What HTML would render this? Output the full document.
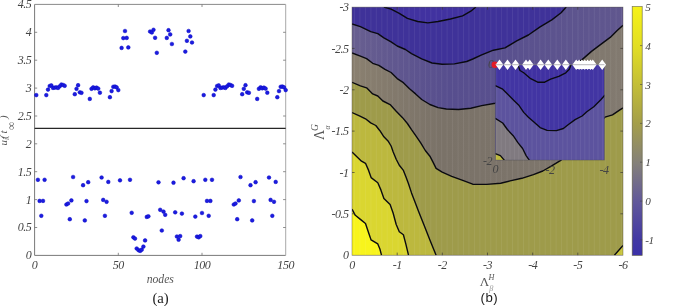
<!DOCTYPE html>
<html><head><meta charset="utf-8"><title>figure</title>
<style>
html,body{margin:0;padding:0;background:#fff;}
svg{display:block;}
text{font-family:"Liberation Serif",serif;}
.tl{font-style:italic;font-size:12px;letter-spacing:-0.45px;fill:#444;}
.it{font-style:italic;}
.cb{font-size:11.2px;}
</style></head><body>
<svg width="685" height="306" viewBox="0 0 685 306">
<rect width="685" height="306" fill="#fff"/>
<path d="M34.6 4.4V255.4H285.7" fill="none" stroke="#727272" stroke-width="0.95"/>
<path d="M34.6 4.4H285.7" fill="none" stroke="#848484" stroke-width="0.95"/>
<path d="M285.7 4.4V255.4" fill="none" stroke="#a4a4a4" stroke-width="0.95"/>
<text class="tl" x="31.400000000000002" y="259.35" text-anchor="end">0</text>
<text class="tl" x="31.400000000000002" y="231.46" text-anchor="end">0.5</text>
<text class="tl" x="31.400000000000002" y="203.57" text-anchor="end">1</text>
<text class="tl" x="31.400000000000002" y="175.68" text-anchor="end">1.5</text>
<text class="tl" x="31.400000000000002" y="147.79" text-anchor="end">2</text>
<text class="tl" x="31.400000000000002" y="119.91" text-anchor="end">2.5</text>
<text class="tl" x="31.400000000000002" y="92.02" text-anchor="end">3</text>
<text class="tl" x="31.400000000000002" y="64.13" text-anchor="end">3.5</text>
<text class="tl" x="31.400000000000002" y="36.24" text-anchor="end">4</text>
<text class="tl" x="31.400000000000002" y="8.35" text-anchor="end">4.5</text>
<text class="tl" x="34.6" y="268.9" text-anchor="middle">0</text>
<text class="tl" x="118.3" y="268.9" text-anchor="middle">50</text>
<text class="tl" x="202.0" y="268.9" text-anchor="middle">100</text>
<text class="tl" x="285.7" y="268.9" text-anchor="middle">150</text>
<path d="M34.6 227.5h2.6M285.7 227.5h-2.6M34.6 199.6h2.6M285.7 199.6h-2.6M34.6 171.7h2.6M285.7 171.7h-2.6M34.6 143.8h2.6M285.7 143.8h-2.6M34.6 116.0h2.6M285.7 116.0h-2.6M34.6 88.1h2.6M285.7 88.1h-2.6M34.6 60.2h2.6M285.7 60.2h-2.6M34.6 32.3h2.6M285.7 32.3h-2.6M118.3 255.4v-2.6M118.3 4.4v2.6M202.0 255.4v-2.6M202.0 4.4v2.6" stroke="#727272" stroke-width="0.8" fill="none"/>
<line x1="34.6" y1="128.35" x2="285.7" y2="128.35" stroke="#262626" stroke-width="1.1"/>
<g fill="#1c1ce0" stroke="#0606c4" stroke-width="0.5"><circle cx="36.3" cy="95.1" r="1.85"/><circle cx="37.9" cy="179.8" r="1.85"/><circle cx="39.6" cy="200.9" r="1.85"/><circle cx="41.3" cy="215.8" r="1.85"/><circle cx="43.0" cy="200.9" r="1.85"/><circle cx="44.6" cy="179.8" r="1.85"/><circle cx="46.3" cy="95.1" r="1.85"/><circle cx="48.0" cy="89.6" r="1.85"/><circle cx="49.7" cy="86.0" r="1.85"/><circle cx="51.3" cy="85.4" r="1.85"/><circle cx="53.0" cy="87.9" r="1.85"/><circle cx="54.7" cy="87.6" r="1.85"/><circle cx="56.4" cy="87.3" r="1.85"/><circle cx="58.0" cy="87.9" r="1.85"/><circle cx="59.7" cy="86.3" r="1.85"/><circle cx="61.4" cy="84.5" r="1.85"/><circle cx="63.1" cy="85.0" r="1.85"/><circle cx="64.7" cy="85.8" r="1.85"/><circle cx="66.4" cy="204.5" r="1.85"/><circle cx="68.1" cy="203.5" r="1.85"/><circle cx="69.8" cy="219.2" r="1.85"/><circle cx="71.4" cy="200.4" r="1.85"/><circle cx="73.1" cy="177.0" r="1.85"/><circle cx="74.8" cy="94.2" r="1.85"/><circle cx="76.5" cy="88.8" r="1.85"/><circle cx="78.1" cy="85.2" r="1.85"/><circle cx="79.8" cy="92.3" r="1.85"/><circle cx="81.5" cy="92.8" r="1.85"/><circle cx="83.1" cy="185.2" r="1.85"/><circle cx="84.8" cy="220.4" r="1.85"/><circle cx="86.5" cy="201.1" r="1.85"/><circle cx="88.2" cy="182.2" r="1.85"/><circle cx="89.8" cy="98.9" r="1.85"/><circle cx="91.5" cy="88.8" r="1.85"/><circle cx="93.2" cy="87.3" r="1.85"/><circle cx="94.9" cy="88.3" r="1.85"/><circle cx="96.5" cy="87.6" r="1.85"/><circle cx="98.2" cy="88.6" r="1.85"/><circle cx="99.9" cy="92.7" r="1.85"/><circle cx="101.6" cy="177.5" r="1.85"/><circle cx="103.2" cy="199.9" r="1.85"/><circle cx="104.9" cy="215.8" r="1.85"/><circle cx="106.6" cy="201.8" r="1.85"/><circle cx="108.3" cy="181.9" r="1.85"/><circle cx="109.9" cy="97.2" r="1.85"/><circle cx="111.6" cy="91.1" r="1.85"/><circle cx="113.3" cy="86.8" r="1.85"/><circle cx="115.0" cy="86.5" r="1.85"/><circle cx="116.6" cy="87.3" r="1.85"/><circle cx="118.3" cy="90.1" r="1.85"/><circle cx="120.0" cy="180.3" r="1.85"/><circle cx="121.6" cy="47.9" r="1.85"/><circle cx="123.3" cy="38.1" r="1.85"/><circle cx="125.0" cy="31.0" r="1.85"/><circle cx="126.7" cy="37.9" r="1.85"/><circle cx="128.3" cy="47.4" r="1.85"/><circle cx="130.0" cy="179.8" r="1.85"/><circle cx="131.7" cy="212.8" r="1.85"/><circle cx="133.4" cy="237.3" r="1.85"/><circle cx="135.0" cy="238.6" r="1.85"/><circle cx="136.7" cy="248.5" r="1.85"/><circle cx="138.4" cy="250.1" r="1.85"/><circle cx="140.1" cy="250.9" r="1.85"/><circle cx="141.7" cy="249.7" r="1.85"/><circle cx="143.4" cy="246.6" r="1.85"/><circle cx="145.1" cy="240.4" r="1.85"/><circle cx="146.8" cy="216.9" r="1.85"/><circle cx="148.4" cy="216.3" r="1.85"/><circle cx="150.1" cy="31.5" r="1.85"/><circle cx="151.8" cy="32.5" r="1.85"/><circle cx="153.5" cy="29.8" r="1.85"/><circle cx="155.1" cy="37.8" r="1.85"/><circle cx="156.8" cy="52.8" r="1.85"/><circle cx="158.5" cy="182.3" r="1.85"/><circle cx="160.2" cy="209.8" r="1.85"/><circle cx="161.8" cy="230.5" r="1.85"/><circle cx="163.5" cy="211.6" r="1.85"/><circle cx="165.2" cy="214.8" r="1.85"/><circle cx="166.8" cy="37.9" r="1.85"/><circle cx="168.5" cy="30.2" r="1.85"/><circle cx="170.2" cy="34.4" r="1.85"/><circle cx="171.9" cy="44.0" r="1.85"/><circle cx="173.5" cy="182.7" r="1.85"/><circle cx="175.2" cy="212.3" r="1.85"/><circle cx="176.9" cy="236.5" r="1.85"/><circle cx="178.6" cy="239.7" r="1.85"/><circle cx="180.2" cy="236.1" r="1.85"/><circle cx="181.9" cy="213.6" r="1.85"/><circle cx="183.6" cy="178.2" r="1.85"/><circle cx="185.3" cy="51.6" r="1.85"/><circle cx="186.9" cy="40.8" r="1.85"/><circle cx="188.6" cy="31.0" r="1.85"/><circle cx="190.3" cy="36.4" r="1.85"/><circle cx="192.0" cy="42.5" r="1.85"/><circle cx="193.6" cy="181.2" r="1.85"/><circle cx="195.3" cy="216.6" r="1.85"/><circle cx="197.0" cy="236.6" r="1.85"/><circle cx="198.7" cy="237.3" r="1.85"/><circle cx="200.3" cy="236.1" r="1.85"/><circle cx="202.0" cy="213.0" r="1.85"/><circle cx="203.7" cy="95.1" r="1.85"/><circle cx="205.3" cy="179.8" r="1.85"/><circle cx="207.0" cy="200.9" r="1.85"/><circle cx="208.7" cy="215.8" r="1.85"/><circle cx="210.4" cy="200.9" r="1.85"/><circle cx="212.0" cy="179.8" r="1.85"/><circle cx="213.7" cy="95.1" r="1.85"/><circle cx="215.4" cy="89.6" r="1.85"/><circle cx="217.1" cy="86.0" r="1.85"/><circle cx="218.7" cy="85.4" r="1.85"/><circle cx="220.4" cy="87.9" r="1.85"/><circle cx="222.1" cy="87.6" r="1.85"/><circle cx="223.8" cy="87.3" r="1.85"/><circle cx="225.4" cy="87.9" r="1.85"/><circle cx="227.1" cy="86.3" r="1.85"/><circle cx="228.8" cy="84.5" r="1.85"/><circle cx="230.5" cy="85.0" r="1.85"/><circle cx="232.1" cy="85.8" r="1.85"/><circle cx="233.8" cy="204.5" r="1.85"/><circle cx="235.5" cy="203.5" r="1.85"/><circle cx="237.2" cy="219.2" r="1.85"/><circle cx="238.8" cy="200.4" r="1.85"/><circle cx="240.5" cy="177.0" r="1.85"/><circle cx="242.2" cy="94.2" r="1.85"/><circle cx="243.8" cy="88.8" r="1.85"/><circle cx="245.5" cy="85.2" r="1.85"/><circle cx="247.2" cy="92.3" r="1.85"/><circle cx="248.9" cy="92.8" r="1.85"/><circle cx="250.5" cy="185.2" r="1.85"/><circle cx="252.2" cy="220.4" r="1.85"/><circle cx="253.9" cy="201.1" r="1.85"/><circle cx="255.6" cy="182.2" r="1.85"/><circle cx="257.2" cy="98.9" r="1.85"/><circle cx="258.9" cy="88.8" r="1.85"/><circle cx="260.6" cy="87.3" r="1.85"/><circle cx="262.3" cy="88.3" r="1.85"/><circle cx="263.9" cy="87.6" r="1.85"/><circle cx="265.6" cy="88.6" r="1.85"/><circle cx="267.3" cy="92.7" r="1.85"/><circle cx="269.0" cy="177.5" r="1.85"/><circle cx="270.6" cy="199.9" r="1.85"/><circle cx="272.3" cy="215.8" r="1.85"/><circle cx="274.0" cy="201.8" r="1.85"/><circle cx="275.7" cy="181.9" r="1.85"/><circle cx="277.3" cy="97.2" r="1.85"/><circle cx="279.0" cy="91.1" r="1.85"/><circle cx="280.7" cy="86.8" r="1.85"/><circle cx="282.4" cy="86.5" r="1.85"/><circle cx="284.0" cy="87.3" r="1.85"/><circle cx="285.7" cy="90.1" r="1.85"/></g>
<text class="it" x="160.3" y="282.6" text-anchor="middle" font-size="11.7" fill="#555">nodes</text>
<text x="160.6" y="302.7" text-anchor="middle" font-size="14.8" fill="#222" font-family="'Liberation Serif',serif">(a)</text>
<g transform="translate(6.9 145.4) rotate(-90)" fill="#555" class="it" font-size="11"><text x="0" y="0">u</text><text x="5.5" y="2.4" font-size="7.5">i</text><text x="6.7" y="0">(</text><text x="12.0" y="0">t</text><text x="15.3" y="7.6" font-size="11.6" font-style="normal">∞</text><text x="26.3" y="0">)</text></g>
<clipPath id="cb"><rect x="352.0" y="7.1" width="271.0" height="248.1"/></clipPath>
<linearGradient id="gbc" gradientUnits="userSpaceOnUse" x1="352" y1="0" x2="623" y2="0"><stop offset="0" stop-color="#685f90"/><stop offset="0.36" stop-color="#574e8e"/><stop offset="0.62" stop-color="#5a518e"/><stop offset="1" stop-color="#60578e"/></linearGradient>
<linearGradient id="gcd" gradientUnits="userSpaceOnUse" x1="352" y1="0" x2="623" y2="0"><stop offset="0" stop-color="#8a8070"/><stop offset="0.33" stop-color="#7a7268"/><stop offset="0.6" stop-color="#7c746a"/><stop offset="1" stop-color="#827a70"/></linearGradient>
<g clip-path="url(#cb)">
<rect x="352.0" y="7.1" width="271.0" height="248.1" fill="#3f3299"/>
<path d="M383.9 7.0 L391.1 9.2 L399.3 13.3 L407.4 18.4 L417.7 21.5 L427.9 22.9 L438.1 21.5 L450.4 19.0 L462.6 15.9 L470.8 11.2 L475.9 7.0Z" fill="#4132a0"/>
<path d="M352.0 24.0 L360.4 26.6 L370.7 31.7 L377.8 33.7 L383.9 37.8 L391.1 41.9 L397.2 46.0 L405.4 49.5 L411.5 53.6 L421.7 58.8 L432.0 63.0 L442.2 64.3 L454.4 63.9 L466.7 61.5 L472.8 59.0 L481.7 54.9 L493.4 50.2 L505.0 47.9 L516.7 40.9 L528.4 35.0 L540.1 26.9 L551.8 19.9 L561.1 12.8 L566.2 7.0 L623.0 7.1 L623.0 255.2 L352.0 255.2Z" fill="url(#gbc)"/>
<path d="M352.0 53.0 L360.4 56.1 L366.6 58.6 L372.7 63.3 L378.8 65.3 L385.0 69.4 L391.1 72.5 L397.2 78.6 L403.4 82.7 L409.5 88.8 L415.6 93.9 L421.7 99.5 L429.9 104.5 L438.1 107.6 L446.3 109.0 L458.5 109.5 L470.8 108.2 L481.7 105.6 L495.2 103.2 L520.0 92.0 L550.0 78.0 L582.1 59.6 L591.5 51.4 L600.8 44.4 L610.2 37.4 L617.2 30.4 L623.0 25.2 L623.0 255.2 L352.0 255.2Z" fill="url(#gcd)"/>
<path d="M352.0 82.3 L360.4 85.8 L366.6 87.8 L372.7 93.9 L377.8 96.0 L382.9 101.0 L390.1 104.6 L396.2 111.2 L402.3 117.4 L407.4 123.5 L411.5 129.6 L416.6 136.8 L420.7 142.9 L425.3 150.5 L429.9 156.2 L433.0 162.1 L436.1 168.4 L442.2 172.2 L451.7 176.3 L463.4 180.6 L472.7 184.2 L486.7 184.4 L500.7 183.2 L510.1 180.9 L521.8 178.3 L533.4 174.6 L542.8 171.0 L552.1 165.7 L560.3 160.6 L585.0 140.0 L605.0 117.1 L612.5 114.8 L619.5 110.1 L623.0 107.9 L623.0 255.2 L352.0 255.2Z" fill="#9e9b4a"/>
<path d="M352.0 112.6 L359.4 115.9 L365.5 118.8 L370.7 122.9 L375.8 125.5 L379.9 130.7 L383.9 136.8 L388.0 140.9 L391.1 146.0 L393.2 152.0 L396.2 159.2 L399.3 165.3 L403.4 170.4 L405.8 176.6 L408.5 183.7 L411.5 192.9 L414.6 201.1 L418.7 211.8 L423.8 224.5 L429.9 239.9 L436.1 255.2 L352.0 255.2Z" fill="#bcb83e"/>
<path d="M352.0 152.0 L357.4 157.2 L361.5 161.2 L365.5 163.3 L368.6 170.4 L371.1 177.6 L377.8 182.7 L380.9 189.9 L383.9 198.5 L390.1 204.6 L393.1 213.0 L396.2 224.5 L399.3 231.7 L403.4 234.7 L405.8 243.9 L408.5 255.2 L352.0 255.2Z" fill="#dad630"/>
<path d="M352.0 209.2 L355.3 215.3 L360.4 219.4 L365.5 223.5 L368.6 232.7 L371.1 239.9 L377.8 243.9 L379.9 249.0 L381.5 255.2 L352.0 255.2Z" fill="#f8f41c"/>
<path d="M614.4 255.2 L623.0 245.4 L623.0 255.2Z" fill="#c8c43c"/>
<path d="M354.5 7.1V255.2M359.9 7.1V255.2M365.4 7.1V255.2M370.9 7.1V255.2M376.3 7.1V255.2M381.8 7.1V255.2M387.2 7.1V255.2M392.6 7.1V255.2M398.1 7.1V255.2M403.6 7.1V255.2M409.0 7.1V255.2M414.4 7.1V255.2M419.9 7.1V255.2M425.4 7.1V255.2M430.8 7.1V255.2M436.2 7.1V255.2M441.7 7.1V255.2M447.1 7.1V255.2M452.6 7.1V255.2M458.1 7.1V255.2M463.5 7.1V255.2M468.9 7.1V255.2M474.4 7.1V255.2M479.9 7.1V255.2M485.3 7.1V255.2M490.8 7.1V255.2M496.2 7.1V255.2M501.6 7.1V255.2M507.1 7.1V255.2M512.5 7.1V255.2M518.0 7.1V255.2M523.5 7.1V255.2M528.9 7.1V255.2M534.4 7.1V255.2M539.8 7.1V255.2M545.2 7.1V255.2M550.7 7.1V255.2M556.1 7.1V255.2M561.6 7.1V255.2M567.0 7.1V255.2M572.5 7.1V255.2M578.0 7.1V255.2M583.4 7.1V255.2M588.9 7.1V255.2M594.3 7.1V255.2M599.8 7.1V255.2M605.2 7.1V255.2M610.7 7.1V255.2M616.1 7.1V255.2M621.5 7.1V255.2" stroke="#fff" stroke-opacity="0.13" stroke-width="0.55" fill="none"/>
<path d="M383.9 7.0 L391.1 9.2 L399.3 13.3 L407.4 18.4 L417.7 21.5 L427.9 22.9 L438.1 21.5 L450.4 19.0 L462.6 15.9 L470.8 11.2 L475.9 7.0M352.0 24.0 L360.4 26.6 L370.7 31.7 L377.8 33.7 L383.9 37.8 L391.1 41.9 L397.2 46.0 L405.4 49.5 L411.5 53.6 L421.7 58.8 L432.0 63.0 L442.2 64.3 L454.4 63.9 L466.7 61.5 L472.8 59.0 L481.7 54.9 L493.4 50.2 L505.0 47.9 L516.7 40.9 L528.4 35.0 L540.1 26.9 L551.8 19.9 L561.1 12.8 L566.2 7.0M352.0 53.0 L360.4 56.1 L366.6 58.6 L372.7 63.3 L378.8 65.3 L385.0 69.4 L391.1 72.5 L397.2 78.6 L403.4 82.7 L409.5 88.8 L415.6 93.9 L421.7 99.5 L429.9 104.5 L438.1 107.6 L446.3 109.0 L458.5 109.5 L470.8 108.2 L481.7 105.6 L495.2 103.2 L520.0 92.0 L550.0 78.0 L582.1 59.6 L591.5 51.4 L600.8 44.4 L610.2 37.4 L617.2 30.4 L623.0 25.2M352.0 82.3 L360.4 85.8 L366.6 87.8 L372.7 93.9 L377.8 96.0 L382.9 101.0 L390.1 104.6 L396.2 111.2 L402.3 117.4 L407.4 123.5 L411.5 129.6 L416.6 136.8 L420.7 142.9 L425.3 150.5 L429.9 156.2 L433.0 162.1 L436.1 168.4 L442.2 172.2 L451.7 176.3 L463.4 180.6 L472.7 184.2 L486.7 184.4 L500.7 183.2 L510.1 180.9 L521.8 178.3 L533.4 174.6 L542.8 171.0 L552.1 165.7 L560.3 160.6 L585.0 140.0 L605.0 117.1 L612.5 114.8 L619.5 110.1 L623.0 107.9M352.0 112.6 L359.4 115.9 L365.5 118.8 L370.7 122.9 L375.8 125.5 L379.9 130.7 L383.9 136.8 L388.0 140.9 L391.1 146.0 L393.2 152.0 L396.2 159.2 L399.3 165.3 L403.4 170.4 L405.8 176.6 L408.5 183.7 L411.5 192.9 L414.6 201.1 L418.7 211.8 L423.8 224.5 L429.9 239.9 L436.1 255.2M352.0 152.0 L357.4 157.2 L361.5 161.2 L365.5 163.3 L368.6 170.4 L371.1 177.6 L377.8 182.7 L380.9 189.9 L383.9 198.5 L390.1 204.6 L393.1 213.0 L396.2 224.5 L399.3 231.7 L403.4 234.7 L405.8 243.9 L408.5 255.2M352.0 209.2 L355.3 215.3 L360.4 219.4 L365.5 223.5 L368.6 232.7 L371.1 239.9 L377.8 243.9 L379.9 249.0 L381.5 255.2M614.4 255.2 L623.0 245.4" fill="none" stroke="#0a0a10" stroke-width="1.4" stroke-linejoin="round"/>
</g>
<clipPath id="ci"><rect x="495.3" y="64.7" width="109.1" height="95.4"/></clipPath>
<g clip-path="url(#ci)">
<rect x="495.3" y="64.7" width="109.1" height="95.4" fill="#4235a3"/>
<path d="M517.9 64.7 L520.0 70.5 L523.7 72.8 L530.7 78.7 L537.7 82.2 L544.7 82.2 L550.6 79.2 L558.8 76.4 L565.8 72.8 L569.3 69.3 L571.0 64.7Z" fill="#4031a2"/>
<path d="M495.3 85.7 L502.7 89.2 L508.5 95.0 L514.4 100.9 L519.1 105.6 L523.7 112.4 L528.4 117.2 L533.6 121.8 L540.1 127.6 L547.1 130.4 L556.4 130.6 L563.4 128.5 L568.1 124.8 L575.1 119.6 L582.1 116.0 L586.8 111.8 L593.8 106.7 L600.8 99.7 L605.0 95.0 L604.4 160.1 L495.3 160.1Z" fill="#5c539e"/>
<path d="M495.3 118.3 L502.7 123.0 L507.4 129.5 L513.2 135.7 L517.9 142.7 L522.6 148.5 L526.1 155.6 L529.6 160.6 L495.3 160.1Z" fill="#807a80"/>
<path d="M495.3 153.6 L500.4 155.6 L504.6 160.6 L495.3 160.1Z" fill="#bcb83e"/>
<path d="M496.8 64.7V160.1M501.2 64.7V160.1M505.6 64.7V160.1M510.0 64.7V160.1M514.4 64.7V160.1M518.8 64.7V160.1M523.2 64.7V160.1M527.6 64.7V160.1M532.0 64.7V160.1M536.4 64.7V160.1M540.8 64.7V160.1M545.2 64.7V160.1M549.6 64.7V160.1M554.0 64.7V160.1M558.4 64.7V160.1M562.8 64.7V160.1M567.2 64.7V160.1M571.6 64.7V160.1M576.0 64.7V160.1M580.4 64.7V160.1M584.8 64.7V160.1M589.2 64.7V160.1M593.6 64.7V160.1M598.0 64.7V160.1M602.4 64.7V160.1M606.8 64.7V160.1" stroke="#fff" stroke-opacity="0.13" stroke-width="0.55" fill="none"/>
<path d="M517.9 64.7 L520.0 70.5 L523.7 72.8 L530.7 78.7 L537.7 82.2 L544.7 82.2 L550.6 79.2 L558.8 76.4 L565.8 72.8 L569.3 69.3 L571.0 64.7M495.3 85.7 L502.7 89.2 L508.5 95.0 L514.4 100.9 L519.1 105.6 L523.7 112.4 L528.4 117.2 L533.6 121.8 L540.1 127.6 L547.1 130.4 L556.4 130.6 L563.4 128.5 L568.1 124.8 L575.1 119.6 L582.1 116.0 L586.8 111.8 L593.8 106.7 L600.8 99.7 L605.0 95.0M495.3 118.3 L502.7 123.0 L507.4 129.5 L513.2 135.7 L517.9 142.7 L522.6 148.5 L526.1 155.6 L529.6 160.6M495.3 153.6 L500.4 155.6 L504.6 160.6" fill="none" stroke="#0a0a10" stroke-width="1.35" stroke-linejoin="round"/>
</g>
<rect x="495.3" y="64.7" width="109.1" height="95.4" fill="none" stroke="#4a4858" stroke-opacity="0.55" stroke-width="0.7"/>
<text class="tl" x="492" y="164.8" text-anchor="end" font-size="9.5" fill="#3a3a3a">-2</text>
<text class="tl" x="495.4" y="173.2" text-anchor="middle" font-size="9.5" fill="#4a4a40">0</text>
<text class="tl" x="550" y="173.6" text-anchor="middle" font-size="9.5" fill="#4a4a40">-2</text>
<text class="tl" x="604" y="173.6" text-anchor="middle" font-size="9.5" fill="#4a4a40">-4</text>
<text class="tl" x="493.6" y="67.8" text-anchor="end" font-size="9.5" fill="#343250">0</text><circle cx="494.8" cy="64.7" r="3.2" fill="#e21c26"/>
<path d="M495.6 64.8L499.5 59.6L503.4 64.8L499.5 70.0ZM503.6 64.8L507.5 59.6L511.4 64.8L507.5 70.0ZM511.6 64.8L515.5 59.6L519.4 64.8L515.5 70.0ZM522.1 64.8L526.0 59.6L529.9 64.8L526.0 70.0ZM525.8 64.8L529.7 59.6L533.6 64.8L529.7 70.0ZM536.7 64.8L540.6 59.6L544.5 64.8L540.6 70.0ZM544.4 64.8L548.3 59.6L552.2 64.8L548.3 70.0ZM553.4 64.8L557.3 59.6L561.2 64.8L557.3 70.0ZM561.9 64.8L565.8 59.6L569.7 64.8L565.8 70.0ZM572.3 64.8L576.2 59.6L580.1 64.8L576.2 70.0ZM575.2 64.8L579.1 59.6L583.0 64.8L579.1 70.0ZM578.0 64.8L581.9 59.6L585.8 64.8L581.9 70.0ZM580.9 64.8L584.8 59.6L588.7 64.8L584.8 70.0ZM583.7 64.8L587.6 59.6L591.5 64.8L587.6 70.0ZM586.6 64.8L590.5 59.6L594.4 64.8L590.5 70.0ZM588.9 64.8L592.8 59.6L596.7 64.8L592.8 70.0ZM598.3 64.8L602.2 59.6L606.1 64.8L602.2 70.0Z" fill="#fff"/>
<line x1="495.3" y1="64.7" x2="604.4" y2="64.7" stroke="#8a8890" stroke-width="0.6"/>
<rect x="352.0" y="7.1" width="271.0" height="248.1" fill="none" stroke="#55534a" stroke-opacity="0.7" stroke-width="0.6"/>
<text class="tl" x="348.6" y="259.45" text-anchor="end">0</text>
<text class="tl" x="348.6" y="218.10" text-anchor="end">-0.5</text>
<text class="tl" x="348.6" y="176.75" text-anchor="end">-1</text>
<text class="tl" x="348.6" y="135.40" text-anchor="end">-1.5</text>
<text class="tl" x="348.6" y="94.05" text-anchor="end">-2</text>
<text class="tl" x="348.6" y="52.70" text-anchor="end">-2.5</text>
<text class="tl" x="348.6" y="11.35" text-anchor="end">-3</text>
<text class="tl" x="352.0" y="268.7" text-anchor="middle">0</text>
<text class="tl" x="397.2" y="268.7" text-anchor="middle">-1</text>
<text class="tl" x="442.3" y="268.7" text-anchor="middle">-2</text>
<text class="tl" x="487.5" y="268.7" text-anchor="middle">-3</text>
<text class="tl" x="532.7" y="268.7" text-anchor="middle">-4</text>
<text class="tl" x="577.8" y="268.7" text-anchor="middle">-5</text>
<text class="tl" x="623.0" y="268.7" text-anchor="middle">-6</text>
<path d="M352.0 213.8h2.6M623.0 213.8h-2.6M352.0 172.5h2.6M623.0 172.5h-2.6M352.0 131.1h2.6M623.0 131.1h-2.6M352.0 89.8h2.6M623.0 89.8h-2.6M352.0 48.4h2.6M623.0 48.4h-2.6M397.2 255.2v-2.6M397.2 7.1v2.6M442.3 255.2v-2.6M442.3 7.1v2.6M487.5 255.2v-2.6M487.5 7.1v2.6M532.7 255.2v-2.6M532.7 7.1v2.6M577.8 255.2v-2.6M577.8 7.1v2.6" stroke="#3c3a34" stroke-width="0.7" fill="none"/>
<linearGradient id="cg" x1="0" y1="0" x2="0" y2="1"><stop offset="0" stop-color="#f6f218"/><stop offset="0.16" stop-color="#e2de24"/><stop offset="0.47" stop-color="#a49e4a"/><stop offset="0.63" stop-color="#84807a"/><stop offset="0.78" stop-color="#62599a"/><stop offset="0.94" stop-color="#4137a4"/><stop offset="1" stop-color="#3b31a8"/></linearGradient>
<rect x="632.2" y="6.6" width="10.0" height="248.8" fill="url(#cg)" stroke="#5a5838" stroke-opacity="0.8" stroke-width="0.7"/>
<text class="tl cb" x="645.2" y="243.9">-1</text>
<path d="M642.2 239.9h-2.2" stroke="#444" stroke-width="0.6"/>
<text class="tl cb" x="645.2" y="205.1">0</text>
<path d="M642.2 201.1h-2.2" stroke="#444" stroke-width="0.6"/>
<text class="tl cb" x="645.2" y="166.2">1</text>
<path d="M642.2 162.2h-2.2" stroke="#444" stroke-width="0.6"/>
<text class="tl cb" x="645.2" y="127.4">2</text>
<path d="M642.2 123.4h-2.2" stroke="#444" stroke-width="0.6"/>
<text class="tl cb" x="645.2" y="88.5">3</text>
<path d="M642.2 84.5h-2.2" stroke="#444" stroke-width="0.6"/>
<text class="tl cb" x="645.2" y="49.6">4</text>
<path d="M642.2 45.6h-2.2" stroke="#444" stroke-width="0.6"/>
<text class="tl cb" x="645.2" y="10.8">5</text>
<text transform="translate(324.2 139.9) rotate(-90)" font-size="14" fill="#555" font-family="'Liberation Serif',serif">Λ<tspan class="it" font-size="9.5" dy="-6.4" dx="-1.3">G</tspan></text>
<text class="it" transform="translate(329.8 129.4) rotate(-90)" font-size="7.5" fill="#666">α</text>
<text x="479.8" y="285.9" font-size="13" fill="#555" font-family="'Liberation Serif',serif">Λ</text>
<text class="it" x="488.6" y="279.9" font-size="8.2" fill="#555">H</text>
<text class="it" x="489.2" y="290.9" font-size="8.2" fill="#999">β</text>
<text x="489.4" y="301.6" text-anchor="middle" font-size="13.2" letter-spacing="0.6" fill="#1a1a1a" style="font-family:'Liberation Sans',sans-serif">(b)</text>
</svg>
</body></html>
